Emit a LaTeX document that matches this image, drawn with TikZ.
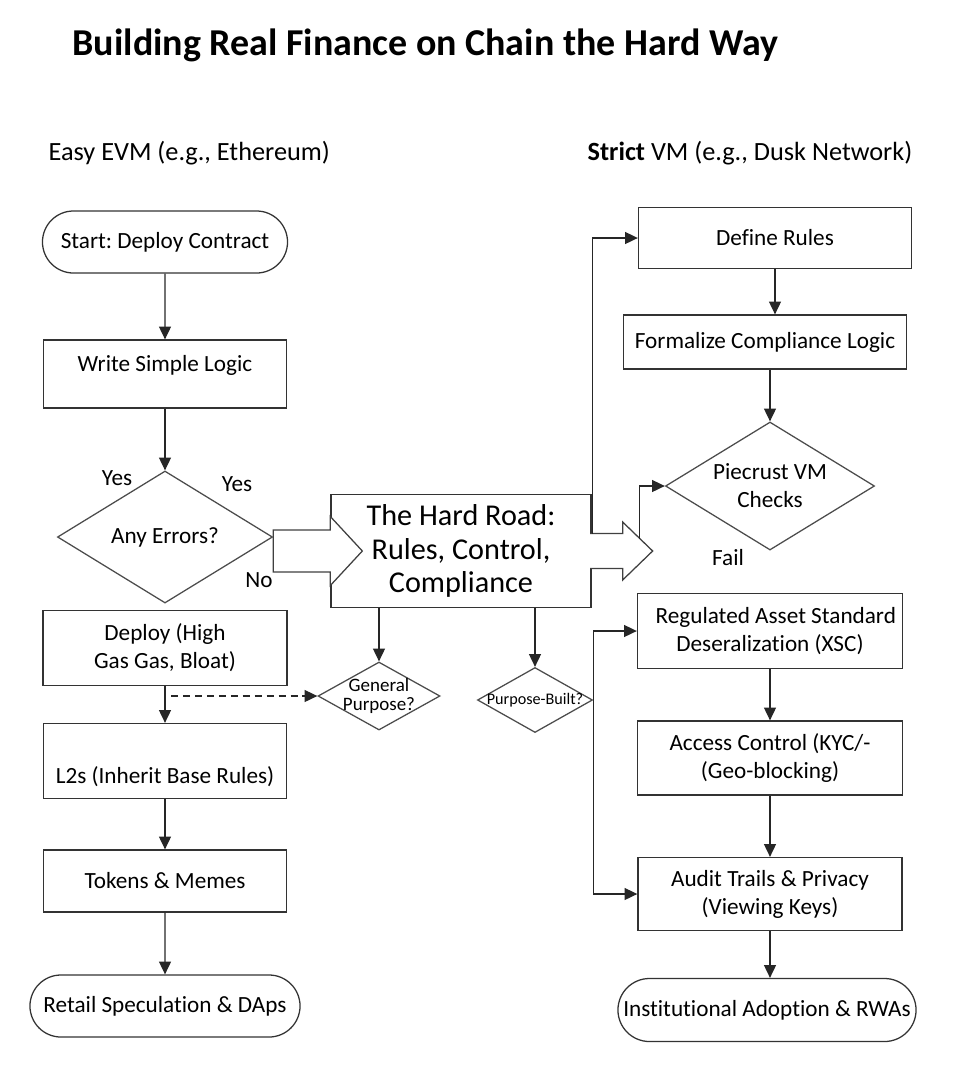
\documentclass[tikz,border=0pt]{standalone}
\usepackage{fontspec}
\setmainfont{Carlito}[Ligatures=NoCommon]
\frenchspacing
\usetikzlibrary{shapes.geometric,shapes.misc,arrows.meta,calc}

\begin{document}
\begin{tikzpicture}[
        x=0.025cm, y=-0.025cm,
        >={Triangle[length=3.2mm,width=3mm]},
        font=\fontsize{16.5}{20}\selectfont,
        every node/.style={align=center},
        line width=0.9pt,
        stepbox/.style={draw=black!80, rectangle, inner sep=0pt},
        endbox/.style={draw=black!80, rounded rectangle, inner sep=0pt},
        decision/.style={draw=black!70, diamond, inner sep=0pt, aspect=1.63},
        smalldecision/.style={decision, aspect=1.8, inner sep=-2pt},
        heading/.style={anchor=base west, inner sep=0pt, font=\fontsize{18.7}{22}\selectfont},
        flow/.style={->, draw=black!85},
        hollow/.style={draw=black!75, fill=white, line join=miter}
    ]

        % --- Koordinaten ---
        % X-Positionen der Spalten
        \def\leftx{165}
        \def\midx{461}
        \def\rightx{770}

        \useasboundingbox (0,0) rectangle (960,1088);

        % --- Titel ---
        \node[heading, font=\fontsize{27}{30}\selectfont\bfseries] (title) at (72,55)
            {Building Real Finance on Chain the Hard Way};
        \node[heading] (easyhead) at (48,160) {Easy EVM (e.g., Ethereum)};
        \node[heading] (stricthead) at (587,160) {\textbf{Strict} VM (e.g., Dusk Network)};

        % --- LINKE SPALTE (Easy EVM) ---
        \node[endbox, minimum width=6.125cm, minimum height=1.55cm] (start) at (\leftx, 242)
            {Start: Deploy Contract};
        \node[stepbox, minimum width=6.075cm, minimum height=1.7cm] (write) at (\leftx, 374)
            {Write Simple Logic\\[-5pt]\mbox{}};
        \node[decision, minimum width=5.375cm, minimum height=3.3cm] (errors) at (\leftx, 537)
            {Any Errors?};
        \node[stepbox, minimum width=6.1cm, minimum height=1.875cm] (deploy) at (\leftx, 648)
            {Deploy (High\\Gas Gas, Bloat)};
        \node[stepbox, minimum width=6.075cm, minimum height=1.875cm] (layer2) at (\leftx, 761)
            {\mbox{}\\[14pt]L2s (Inherit Base Rules)};
        \node[stepbox, minimum width=6.075cm, minimum height=1.55cm] (tokens) at (\leftx, 881)
            {Tokens \& Memes};
        \node[endbox, minimum width=6.75cm, minimum height=1.55cm] (retail) at (\leftx, 1006)
            {Retail Speculation \& DAps};

        % Beschriftungen der Entscheidung
        \node (yesa) at (117, 478) {Yes};
        \node (yesb) at (237, 484) {Yes};
        \node (no) at (259, 580) {No};

        % --- MITTE (The Hard Road) ---
        \node[stepbox, minimum width=6.5cm, minimum height=2.825cm,
              font=\fontsize{21.5}{24}\selectfont] (road) at (\midx, 551)
            {The Hard Road:\\Rules, Control,\\Compliance};
        \node[smalldecision, minimum width=3.05cm, minimum height=1.7cm,
              font=\fontsize{13.5}{13}\selectfont] (general) at (379, 696)
            {General\\Purpose?};
        \node[smalldecision, minimum width=2.875cm, minimum height=1.625cm,
              font=\fontsize{11.5}{13}\selectfont] (purpose) at (535, 700)
            {Purpose-Built?};

        % --- RECHTE SPALTE (Strict VM) ---
        \node[stepbox, minimum width=6.825cm, minimum height=1.525cm] (rules) at (\rightx+5, 238)
            {Define Rules};
        \node[stepbox, minimum width=7.075cm, minimum height=1.35cm] (formal) at (\rightx-5, 342)
            {Formalize Compliance Logic};
        \node[decision, minimum width=5.225cm, minimum height=3.2cm] (vm) at (\rightx, 486)
            {Piecrust VM\\Checks};
        \node (fail) at (728, 558) {Fail};
        \node[stepbox, minimum width=6.625cm, minimum height=1.875cm] (regasset) at (\rightx, 631)
            {\hspace{0.5em}Regulated Asset Standard\\Deseralization (XSC)};
        \node[stepbox, minimum width=6.625cm, minimum height=1.85cm] (access) at (\rightx, 758)
            {Access Control (KYC/-\\(Geo-blocking)};
        \node[stepbox, minimum width=6.6cm, minimum height=1.825cm] (audit) at (\rightx, 894)
            {Audit Trails \& Privacy\\(Viewing Keys)};
        \node[endbox, minimum width=7.45cm, minimum height=1.575cm] (inst) at (\rightx-3, 1010)
            {Institutional Adoption \& RWAs};

        % --- Hohle Pfeile ---
        % Entscheidung -> Hard Road
        \draw[hollow] ($(road.west)+(-57,-21)$) -- ++(57,0) -- ++(0,-13.5) -- ++(32,34.5)
            -- ++(-32,34.5) -- ++(0,-13.5) -- ++(-57,0) -- cycle;
        % Hard Road -> rechte Spalte (offene Seite am Kasten)
        \draw[hollow] ($(road.east)+(-1.5,-17.5)$) -- ++(32.5,0) -- ++(0,-11.5) -- ++(30,29)
            -- ++(-30,29) -- ++(0,-11.5) -- ++(-32.5,0);
        \coordinate (roadtop) at ($(road.east)+(1,-17.5)$);
        \coordinate (roadhead) at ($(road.east)+(48,-12.5)$);

        % --- Verbindungen links ---
        \draw[flow] (start) -- (write);
        \draw[flow] (write) -- (errors);
        \draw[flow] (deploy) -- (layer2);
        \draw[flow] (layer2) -- (tokens);
        \draw[flow] (tokens) -- (retail);
        \coordinate (dashstart) at ($(deploy.south |- general.west)+(6,0)$);
        \draw[flow, dash pattern=on 5pt off 3.5pt] (dashstart) -- (general.west);

        % --- Verbindungen Mitte ---
        \draw[flow] (general.north |- road.south) -- (general.north);
        \draw[flow] (purpose.north |- road.south) -- (purpose.north);

        % --- Verbindungen rechts ---
        \draw[flow] (roadtop) |- (rules.west);
        \draw[flow] (roadhead) |- (vm.west);
        \draw[flow] (rules.south) -- (rules.south |- formal.north);
        \draw[flow] (vm.north |- formal.south) -- (vm.north);
        \draw[flow] (purpose.east) |- (regasset.west);
        \draw[flow] (purpose.east) |- (audit.west);
        \draw[flow] (regasset) -- (access);
        \draw[flow] (access) -- (audit);
        \draw[flow] (audit.south) -- (audit.south |- inst.north);

    \end{tikzpicture}
\end{document}
